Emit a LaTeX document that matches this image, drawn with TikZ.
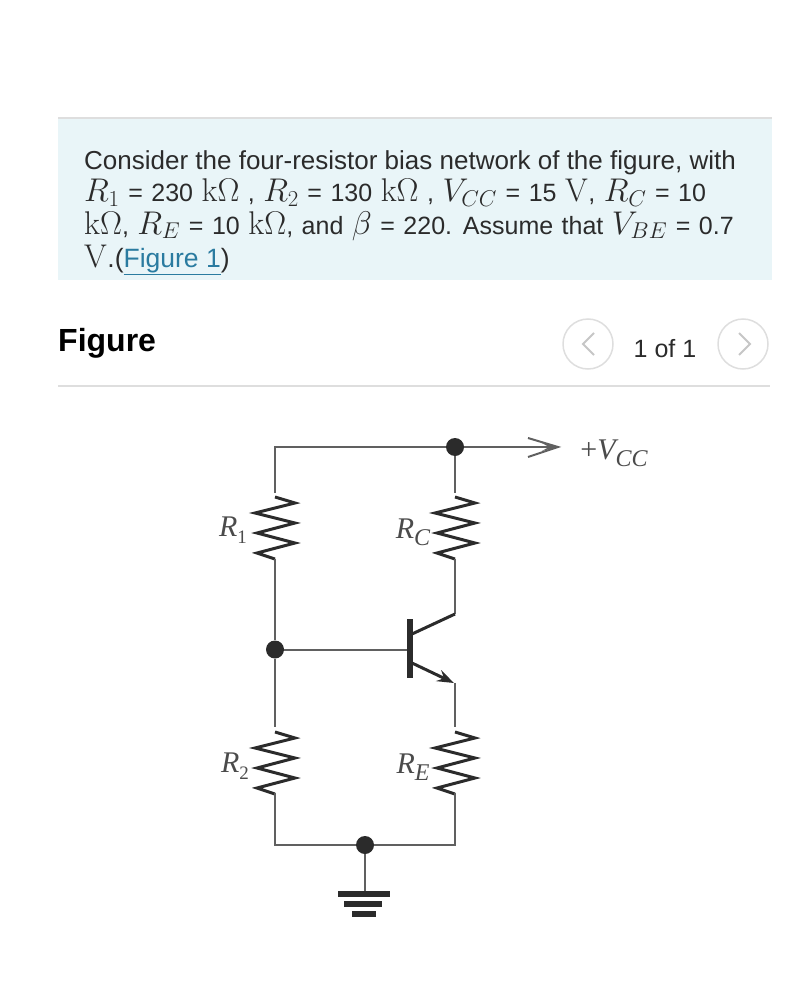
\documentclass[tikz,border=0pt]{standalone}
\usepackage{graphicx}
\usepackage[no-math]{fontspec}
\usepackage{xcolor}
\usetikzlibrary{arrows.meta}
\setmainfont{Liberation Sans}
\newfontfamily\labelfont{Liberation Serif}
\definecolor{panelbg}{HTML}{E9F5F8}
\definecolor{rulegray}{HTML}{DEDEDE}
\definecolor{linkblue}{HTML}{2A7BA0}
\definecolor{inkgray}{HTML}{2B2B2B}
\newcommand{\mth}[1]{\scalebox{1.32}{$#1$}}
\newcommand{\wordgap}{\setlength{\spaceskip}{8.5pt}}
\newcommand{\labelsub}[3]{{\labelfont\fontsize{30}{34}\selectfont\itshape #1\raisebox{-0.24em}{\fontsize{#2}{24}\selectfont #3}}}
\tikzset{
    wire/.style={draw=inkgray!75, line width=2pt, line join=miter},
    thickwire/.style={draw=inkgray, line width=3pt},
    dotnode/.style={circle, fill=inkgray, inner sep=0pt, minimum size=18pt},
    problemline/.style={anchor=base west, inner sep=0pt, text=inkgray, font=\fontsize{25}{30}\selectfont},
    circuitlabel/.style={inner sep=0pt, text=inkgray!85},
    navcircle/.style={circle, draw=rulegray, line width=1.5pt, minimum size=50pt, inner sep=0pt},
    chevron/.style={draw=gray!45, line width=2pt},
    groundbar/.style={fill=inkgray, draw=none, minimum height=6pt, inner sep=0pt},
    pics/zigzag/.style={
        code={
            \draw[draw=inkgray, line width=3pt, line join=miter]
                (0,0) -- (20,6) -- (-20,16) -- (20,26) -- (-18,36) -- (20,46) -- (-18,56) -- (0,62);
        }
    }
}

\begin{document}
\begin{tikzpicture}[x=1pt, y=-1pt]
        \useasboundingbox (0,0) rectangle (796,1000);
        \fill[panelbg] (58,118) rectangle (772,280);
        \draw[rulegray, line width=1.5pt] (58,118) -- (772,118);
        \draw[rulegray, line width=1.5pt] (58,386) -- (770,386);

        \node[problemline, font=\fontsize{26}{30}\selectfont] (lineone) at (84,170) {Consider the four-resistor bias network of the figure, with};
        \node[problemline] (linetwo) at (84,202) {\wordgap\mth{R_1} = 230 \mth{\mathrm{k}\Omega} , \mth{R_2} = 130 \mth{\mathrm{k}\Omega} , \mth{V_{CC}} = 15 \mth{\mathrm{V}}, \mth{R_C} = 10};
        \node[problemline] (linethree) at (84,234) {\wordgap\mth{\mathrm{k}\Omega}, \mth{R_E} = 10 \mth{\mathrm{k}\Omega}, and \mth{\beta} = 220. Assume that \mth{V_{BE}} = 0.7};
        \node[problemline, font=\fontsize{26.5}{30}\selectfont] (linefour) at (84,267) {\mth{\mathrm{V}}.(\textcolor{linkblue}{\underline{Figure 1}})};

        \node[anchor=base west, inner sep=0pt, font=\fontsize{32}{36}\selectfont\bfseries] (figtitle) at (58,351) {Figure};
        \node[navcircle] (prevbtn) at (588,344) {};
        \node[navcircle] (nextbtn) at (743,344) {};
        \draw[chevron] (594,333) -- (583,344) -- (594,355);
        \draw[chevron] (739,333) -- (750,344) -- (739,355);
        \node[anchor=base, inner sep=0pt, text=inkgray, font=\fontsize{25}{30}\selectfont] (pagecount) at (665,357) {1 of 1};

        \node[dotnode] (vccdot) at (455,447) {};
        \node[dotnode] (basedot) at (275,649.5) {};
        \node[dotnode] (gnddot) at (365,845) {};

        \coordinate (topleft) at (275,447);
        \coordinate (vccend) at (558,447);
        \coordinate (barbup) at (528,438);
        \coordinate (barbdown) at (528,457);
        \coordinate (rone_top) at (275,493);
        \coordinate (rone_bot) at (275,559);
        \coordinate (rc_top) at (455,493);
        \coordinate (rc_bot) at (455,559);
        \coordinate (rtwo_top) at (275,727);
        \coordinate (rtwo_bot) at (275,793);
        \coordinate (re_top) at (455,727);
        \coordinate (re_bot) at (455,793);
        \coordinate (botleft) at (275,845);
        \coordinate (botright) at (455,845);
        \coordinate (collector) at (455,614);
        \coordinate (emitter) at (454,683);
        \coordinate (emitterwire) at (455,683);
        \coordinate (basebar) at (410,649.5);
        \coordinate (gndtop) at (365,892);

        \pic at (275,497) {zigzag};
        \pic at (455,497) {zigzag};
        \pic at (275,732) {zigzag};
        \pic at (455,732) {zigzag};

        \draw[wire] (rone_top) -- (topleft) -- (vccdot);
        \draw[wire] (vccdot) -- (rc_top);
        \draw[wire, -{Stealth[length=16pt, width=8pt, inset=7pt]}] (vccdot) -- (vccend);
        \draw[wire] (barbup) -- (vccend) -- (barbdown);
        \draw[wire] (rone_bot) -- (basedot) -- (rtwo_top);
        \draw[wire] (basedot) -- (basebar);
        \draw[wire] (rc_bot) -- (collector);
        \draw[wire] (emitterwire) -- (re_top);
        \draw[wire] (rtwo_bot) -- (botleft) -- (gnddot) -- (botright) -- (re_bot);
        \draw[wire] (gnddot) -- (gndtop);

        \draw[draw=inkgray, line width=6pt] (410,619) -- (410,678);
        \draw[thickwire] (412,634) -- (collector);
        \draw[thickwire, -{Stealth[length=17pt, width=12pt, inset=6pt]}] (412,663) -- (emitter);

        \node[groundbar, minimum width=52pt] (gndone) at (364,893.5) {};
        \node[groundbar, minimum width=38pt] (gndtwo) at (363,903.5) {};
        \node[groundbar, minimum width=24pt] (gndthree) at (364,913.5) {};

        \node[circuitlabel] (labelone) at (233,530) {\labelsub{R}{19}{\upshape 1}};
        \node[circuitlabel] (labelc) at (413,532) {\labelsub{R}{24}{C}};
        \node[circuitlabel] (labeltwo) at (235,766) {\labelsub{R}{19}{\upshape 2}};
        \node[circuitlabel] (labele) at (413,767) {\labelsub{R}{24}{E}};
        \node[circuitlabel] (labelvcc) at (614,453) {{\labelfont\fontsize{30}{34}\selectfont +}\labelsub{V}{24}{CC}};
    \end{tikzpicture}
\end{document}
